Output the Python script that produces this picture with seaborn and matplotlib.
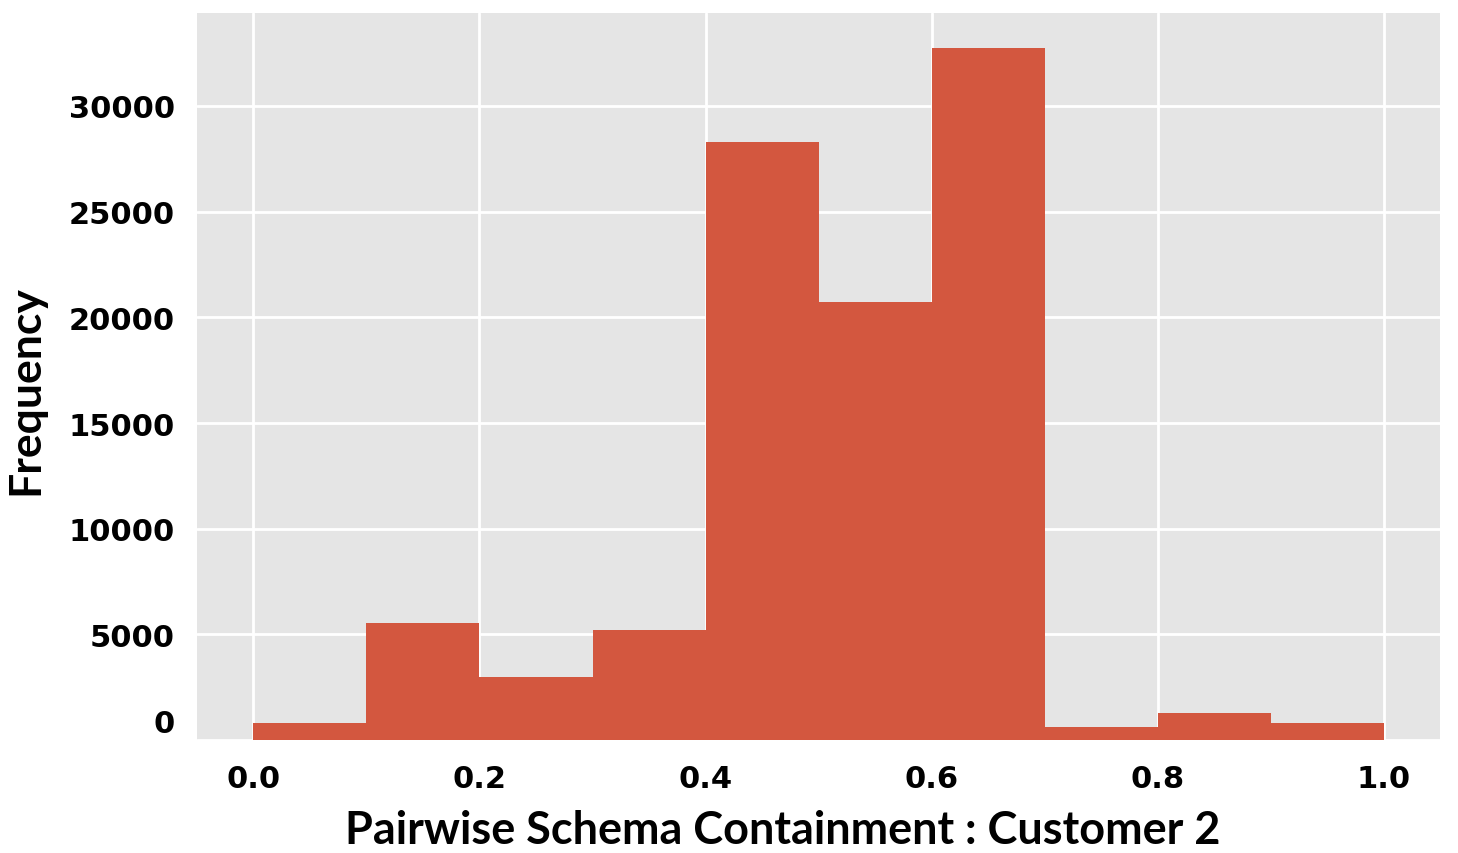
import numpy as np
import pandas as pd
import seaborn as sns
import matplotlib.pyplot as plt
import matplotlib.transforms as mtransforms

# histogram bins and counts
bin_edges = [0.0, 0.1, 0.2, 0.3, 0.4, 0.5, 0.6, 0.7, 0.8, 0.9, 1.0]
bin_centers = [0.05, 0.15, 0.25, 0.35, 0.45, 0.55, 0.65, 0.75, 0.85, 0.95]
counts = [800, 5550, 3000, 5200, 28310, 20740, 32760, 630, 1260, 800]
x_ticks = [0.0, 0.2, 0.4, 0.6, 0.8, 1.0]
y_ticks = [0, 5000, 10000, 15000, 20000, 25000, 30000]

df = pd.DataFrame({"containment": bin_centers, "count": counts})

sns.set_style("darkgrid", {"axes.facecolor": "#E5E5E5", "grid.color": "white"})

fig = plt.figure(figsize=(14.58, 8.54), dpi=100)
ax = fig.add_axes([0.1351, 0.1323, 0.8526, 0.8513])

sns.histplot(data=df, x="containment", weights="count", bins=bin_edges,
             color="#D3573F", alpha=1, edgecolor="none", linewidth=0, ax=ax)

ax.set_xlim(-0.05, 1.05)
ax.set_ylim(0, 34400)
ax.set_xticks(x_ticks)
ax.set_xticklabels([f"{t:.1f}" for t in x_ticks])
ax.set_yticks(y_ticks)
ax.set_yticklabels([str(t) for t in y_ticks])
ax.grid(True, color="white", linewidth=2)
for s in ax.spines.values():
    s.set_visible(False)

ax.tick_params(axis="both", length=0, labelsize=22, labelcolor="black")
ax.tick_params(axis="y", pad=16)
ax.tick_params(axis="x", pad=17)
for lab in ax.get_xticklabels() + ax.get_yticklabels():
    lab.set_fontweight("bold")
    lab.set_family("DejaVu Sans")

# the "0" label sits a bit above its gridline in the original
zero_lab = ax.get_yticklabels()[0]
zero_lab.set_transform(zero_lab.get_transform() +
                       mtransforms.ScaledTranslation(0, 20 / 100, fig.dpi_scale_trans))

ax.set_xlabel("Pairwise Schema Containment : Customer 2", fontsize=32.4,
              fontweight="bold", family="Lato", color="black")
ax.xaxis.set_label_coords(0.4714, -0.095)
ax.set_ylabel("Frequency", fontsize=32, fontweight="bold", family="Lato",
              color="black")
ax.yaxis.set_label_coords(-0.122, 0.483)

fig.savefig("out.png", dpi=100, facecolor="white")
